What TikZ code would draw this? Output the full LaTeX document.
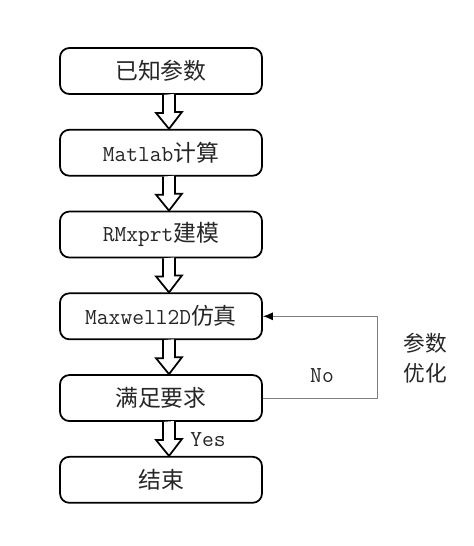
\documentclass[tikz,border=0pt]{standalone}
\usepackage{fontspec}
\newfontfamily\cjk{Noto Sans CJK SC}
\usetikzlibrary{positioning,calc,arrows.meta}

% hollow block arrow between two stacked boxes
\newcommand{\hollowarrow}[2]{%
  \draw[hollow] ($(#1.south)+(2,0)$) -- ++(0,18) -- ++(-7,0)
    -- ($(#2.north)+(8,0)$) -- ++(13,-17) -- ++(-7,0) -- ++(0,-18);}

\begin{document}
\begin{tikzpicture}[x=0.03cm,y=-0.03cm,
    box/.style={rectangle,rounded corners=8pt,draw,line width=1.5pt,
      minimum width=6.06cm,minimum height=1.38cm,inner sep=2pt,
      font=\ttfamily\fontsize{19.5}{22}\selectfont,text=black!85},
    hollow/.style={draw,fill=white,line width=1.5pt},
    lbl/.style={font=\ttfamily\fontsize{19.5}{22}\selectfont,text=black!85}]
  \useasboundingbox (0,0) rectangle (474,546);
  \node[box] (a) at (161,71) {\cjk 已知参数};
  \node[box,below=1.02cm of a] (b) {Matlab{\cjk 计算}};
  \node[box,below=1.02cm of b] (c) {RMxprt{\cjk 建模}};
  \node[box,below=1.02cm of c] (d) {Maxwell2D{\cjk 仿真}};
  \node[box,below=1.02cm of d] (e) {\cjk 满足要求};
  \node[box,below=1.02cm of e] (f) {\cjk 结束};
  \hollowarrow{a}{b}
  \hollowarrow{b}{c}
  \hollowarrow{c}{d}
  \hollowarrow{d}{e}
  \hollowarrow{e}{f}
  % feedback loop
  \coordinate (g) at (377,0);
  \draw[gray,line width=0.8pt,-{Latex[black,length=3mm,width=2.4mm]}]
    (e.east) -- (e.east -| g) |- (d.east);
  \node[lbl] (no) at (322,376) {No};
  \node[lbl] (yes) at (208,440) {Yes};
  \node[lbl,align=center,font=\fontsize{18.5}{26}\selectfont\cjk] (opt) at (425,358) {参数\\优化};
\end{tikzpicture}
\end{document}
